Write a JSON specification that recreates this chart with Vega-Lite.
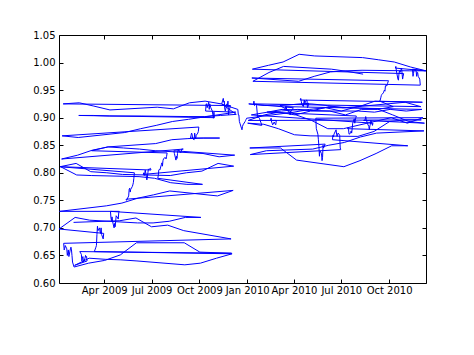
{
"$schema": "https://vega.github.io/schema/vega-lite/v6.json",
"width": 367, "height": 248,
"autosize": "none",
"padding": {"left": 59, "top": 35, "right": 48, "bottom": 72},
"background": "white",
"config": {"view": {"stroke": "black", "strokeWidth": 1}, "axis": {"labelFont": "DejaVu Sans", "labelFontSize": 10, "labelColor": "black", "tickColor": "black", "domain": false, "grid": false}},
"data": {"values": [
{"d":"2009-02-01","v":0.710},{"d":"2009-05-01","v":0.713},{"d":"2009-06-01","v":0.718},{"d":"2009-07-01","v":0.702},{"d":"2009-08-01","v":0.705},{"d":"2009-09-01","v":0.695},{"d":"2009-12-01","v":0.680},
{"d":"2009-01-13","v":0.672},{"d":"2009-01-14","v":0.660},{"d":"2009-01-15","v":0.663},{"d":"2009-01-16","v":0.668},{"d":"2009-01-19","v":0.662},{"d":"2009-01-20","v":0.650},{"d":"2009-01-21","v":0.655},{"d":"2009-01-22","v":0.660},{"d":"2009-01-23","v":0.648},{"d":"2009-01-26","v":0.662},{"d":"2009-01-27","v":0.665},{"d":"2009-01-28","v":0.660},{"d":"2009-01-29","v":0.650},{"d":"2009-01-30","v":0.638},
{"d":"2009-02-02","v":0.629},{"d":"2009-03-02","v":0.636},{"d":"2009-04-02","v":0.641},{"d":"2009-05-02","v":0.651},{"d":"2009-06-02","v":0.673},{"d":"2009-09-02","v":0.673},{"d":"2009-10-02","v":0.656},{"d":"2009-11-02","v":0.655},{"d":"2009-12-02","v":0.654},
{"d":"2009-02-13","v":0.657},{"d":"2009-02-16","v":0.652},{"d":"2009-02-17","v":0.640},{"d":"2009-02-18","v":0.645},{"d":"2009-02-19","v":0.648},{"d":"2009-02-20","v":0.638},{"d":"2009-02-23","v":0.645},{"d":"2009-02-24","v":0.650},{"d":"2009-02-25","v":0.647},{"d":"2009-02-26","v":0.648},{"d":"2009-02-27","v":0.640},
{"d":"2009-02-03","v":0.632},{"d":"2009-03-03","v":0.645},{"d":"2009-04-03","v":0.643},{"d":"2009-05-03","v":0.642},{"d":"2009-06-03","v":0.640},{"d":"2009-09-03","v":0.633},{"d":"2009-10-03","v":0.636},{"d":"2009-11-03","v":0.645},{"d":"2009-12-03","v":0.653},
{"d":"2009-03-13","v":0.657},{"d":"2009-03-16","v":0.665},{"d":"2009-03-17","v":0.668},{"d":"2009-03-18","v":0.688},{"d":"2009-03-19","v":0.703},{"d":"2009-03-20","v":0.695},{"d":"2009-03-23","v":0.700},{"d":"2009-03-24","v":0.693},{"d":"2009-03-25","v":0.690},{"d":"2009-03-26","v":0.700},{"d":"2009-03-27","v":0.688},{"d":"2009-03-30","v":0.680},{"d":"2009-03-31","v":0.690},
{"d":"2009-01-04","v":0.698},{"d":"2009-02-04","v":0.719},{"d":"2009-03-04","v":0.714},{"d":"2009-06-04","v":0.709},{"d":"2009-07-04","v":0.709},{"d":"2009-08-04","v":0.712},{"d":"2009-09-04","v":0.719},{"d":"2009-10-04","v":0.719},
{"d":"2009-04-13","v":0.730},{"d":"2009-04-14","v":0.718},{"d":"2009-04-15","v":0.713},{"d":"2009-04-16","v":0.720},{"d":"2009-04-17","v":0.712},{"d":"2009-04-20","v":0.700},{"d":"2009-04-21","v":0.708},{"d":"2009-04-22","v":0.702},{"d":"2009-04-23","v":0.712},{"d":"2009-04-24","v":0.722},{"d":"2009-04-27","v":0.718},{"d":"2009-04-28","v":0.716},{"d":"2009-04-29","v":0.728},{"d":"2009-04-30","v":0.730},
{"d":"2009-01-05","v":0.730},{"d":"2009-04-05","v":0.740},{"d":"2009-05-05","v":0.745},{"d":"2009-06-05","v":0.754},{"d":"2009-07-05","v":0.760},{"d":"2009-08-05","v":0.767},{"d":"2009-11-05","v":0.758},{"d":"2009-12-05","v":0.768},
{"d":"2009-05-13","v":0.752},{"d":"2009-05-14","v":0.750},{"d":"2009-05-15","v":0.752},{"d":"2009-05-18","v":0.758},{"d":"2009-05-19","v":0.770},{"d":"2009-05-20","v":0.772},{"d":"2009-05-21","v":0.765},{"d":"2009-05-22","v":0.770},{"d":"2009-05-25","v":0.775},{"d":"2009-05-26","v":0.778},{"d":"2009-05-27","v":0.782},{"d":"2009-05-28","v":0.790},{"d":"2009-05-29","v":0.800},
{"d":"2009-01-06","v":0.811},{"d":"2009-02-06","v":0.817},{"d":"2009-03-06","v":0.802},{"d":"2009-04-06","v":0.800},{"d":"2009-05-06","v":0.797},{"d":"2009-08-06","v":0.795},{"d":"2009-09-06","v":0.800},{"d":"2009-10-06","v":0.803},{"d":"2009-11-06","v":0.817},{"d":"2009-12-06","v":0.812},
{"d":"2009-06-15","v":0.797},{"d":"2009-06-16","v":0.800},{"d":"2009-06-17","v":0.795},{"d":"2009-06-18","v":0.800},{"d":"2009-06-19","v":0.805},{"d":"2009-06-22","v":0.787},{"d":"2009-06-23","v":0.792},{"d":"2009-06-24","v":0.800},{"d":"2009-06-25","v":0.807},{"d":"2009-06-26","v":0.806},{"d":"2009-06-29","v":0.808},{"d":"2009-06-30","v":0.805},
{"d":"2009-01-07","v":0.811},{"d":"2009-02-07","v":0.796},{"d":"2009-03-07","v":0.795},{"d":"2009-06-07","v":0.793},{"d":"2009-07-07","v":0.790},{"d":"2009-08-07","v":0.782},{"d":"2009-09-07","v":0.779},{"d":"2009-10-07","v":0.779},
{"d":"2009-07-13","v":0.790},{"d":"2009-07-14","v":0.795},{"d":"2009-07-15","v":0.805},{"d":"2009-07-16","v":0.806},{"d":"2009-07-17","v":0.805},{"d":"2009-07-20","v":0.815},{"d":"2009-07-21","v":0.818},{"d":"2009-07-22","v":0.812},{"d":"2009-07-23","v":0.822},{"d":"2009-07-24","v":0.825},{"d":"2009-07-27","v":0.828},{"d":"2009-07-28","v":0.826},{"d":"2009-07-29","v":0.825},{"d":"2009-07-30","v":0.830},{"d":"2009-07-31","v":0.836},
{"d":"2009-03-08","v":0.840},{"d":"2009-04-08","v":0.847},{"d":"2009-05-08","v":0.845},{"d":"2009-06-08","v":0.843},{"d":"2009-07-08","v":0.840},{"d":"2009-10-08","v":0.835},{"d":"2009-11-08","v":0.829},{"d":"2009-12-08","v":0.832},
{"d":"2009-08-13","v":0.840},{"d":"2009-08-14","v":0.835},{"d":"2009-08-17","v":0.823},{"d":"2009-08-18","v":0.830},{"d":"2009-08-19","v":0.826},{"d":"2009-08-20","v":0.835},{"d":"2009-08-21","v":0.841},{"d":"2009-08-24","v":0.840},{"d":"2009-08-25","v":0.837},{"d":"2009-08-26","v":0.836},{"d":"2009-08-27","v":0.838},{"d":"2009-08-28","v":0.843},{"d":"2009-08-31","v":0.843},
{"d":"2009-01-09","v":0.825},{"d":"2009-02-09","v":0.832},{"d":"2009-03-09","v":0.841},{"d":"2009-04-09","v":0.847},{"d":"2009-07-09","v":0.853},{"d":"2009-08-09","v":0.860},{"d":"2009-09-09","v":0.862},{"d":"2009-10-09","v":0.863},{"d":"2009-11-09","v":0.863},
{"d":"2009-09-14","v":0.863},{"d":"2009-09-15","v":0.868},{"d":"2009-09-16","v":0.872},{"d":"2009-09-17","v":0.870},{"d":"2009-09-18","v":0.862},{"d":"2009-09-21","v":0.860},{"d":"2009-09-22","v":0.872},{"d":"2009-09-23","v":0.866},{"d":"2009-09-24","v":0.862},{"d":"2009-09-25","v":0.868},{"d":"2009-09-28","v":0.872},{"d":"2009-09-29","v":0.875},{"d":"2009-09-30","v":0.883},
{"d":"2009-01-10","v":0.867},{"d":"2009-02-10","v":0.864},{"d":"2009-05-10","v":0.873},{"d":"2009-06-10","v":0.880},{"d":"2009-07-10","v":0.886},{"d":"2009-08-10","v":0.893},{"d":"2009-09-10","v":0.897},{"d":"2009-12-10","v":0.910},
{"d":"2009-10-13","v":0.912},{"d":"2009-10-14","v":0.925},{"d":"2009-10-15","v":0.925},{"d":"2009-10-16","v":0.918},{"d":"2009-10-19","v":0.928},{"d":"2009-10-20","v":0.915},{"d":"2009-10-21","v":0.925},{"d":"2009-10-22","v":0.922},{"d":"2009-10-23","v":0.918},{"d":"2009-10-26","v":0.912},{"d":"2009-10-27","v":0.905},{"d":"2009-10-28","v":0.899},{"d":"2009-10-29","v":0.910},{"d":"2009-10-30","v":0.900},
{"d":"2009-02-11","v":0.904},{"d":"2009-03-11","v":0.904},{"d":"2009-04-11","v":0.903},{"d":"2009-05-11","v":0.903},{"d":"2009-06-11","v":0.903},{"d":"2009-09-11","v":0.902},{"d":"2009-10-11","v":0.902},{"d":"2009-11-11","v":0.904},{"d":"2009-12-11","v":0.906},
{"d":"2009-11-13","v":0.925},{"d":"2009-11-16","v":0.935},{"d":"2009-11-17","v":0.928},{"d":"2009-11-18","v":0.930},{"d":"2009-11-19","v":0.915},{"d":"2009-11-20","v":0.912},{"d":"2009-11-23","v":0.925},{"d":"2009-11-24","v":0.920},{"d":"2009-11-25","v":0.930},{"d":"2009-11-26","v":0.905},{"d":"2009-11-27","v":0.912},{"d":"2009-11-30","v":0.922},
{"d":"2009-01-12","v":0.925},{"d":"2009-02-12","v":0.927},{"d":"2009-03-12","v":0.921},{"d":"2009-04-12","v":0.914},{"d":"2009-07-12","v":0.919},{"d":"2009-08-12","v":0.916},{"d":"2009-09-12","v":0.927},{"d":"2009-10-12","v":0.930},{"d":"2009-11-12","v":0.925},
{"d":"2009-12-14","v":0.915},{"d":"2009-12-15","v":0.905},{"d":"2009-12-16","v":0.905},{"d":"2009-12-17","v":0.893},{"d":"2009-12-18","v":0.890},{"d":"2009-12-21","v":0.881},{"d":"2009-12-22","v":0.878},{"d":"2009-12-23","v":0.884},{"d":"2009-12-24","v":0.887},{"d":"2009-12-28","v":0.893},{"d":"2009-12-29","v":0.895},{"d":"2009-12-30","v":0.897},{"d":"2009-12-31","v":0.899},
{"d":"2010-04-01","v":0.910},{"d":"2010-05-01","v":0.915},{"d":"2010-06-01","v":0.918},{"d":"2010-07-01","v":0.912},{"d":"2010-08-01","v":0.920},{"d":"2010-11-01","v":0.928},{"d":"2010-12-01","v":0.920},
{"d":"2010-01-13","v":0.925},{"d":"2010-01-14","v":0.930},{"d":"2010-01-15","v":0.922},{"d":"2010-01-18","v":0.925},{"d":"2010-01-19","v":0.922},{"d":"2010-01-20","v":0.912},{"d":"2010-01-21","v":0.900},{"d":"2010-01-22","v":0.902},{"d":"2010-01-25","v":0.898},{"d":"2010-01-26","v":0.895},{"d":"2010-01-27","v":0.892},{"d":"2010-01-28","v":0.890},{"d":"2010-01-29","v":0.886},
{"d":"2010-01-02","v":0.890},{"d":"2010-02-02","v":0.888},{"d":"2010-03-02","v":0.880},{"d":"2010-04-02","v":0.869},{"d":"2010-05-02","v":0.867},{"d":"2010-08-02","v":0.866},{"d":"2010-09-02","v":0.875},{"d":"2010-10-02","v":0.893},{"d":"2010-11-02","v":0.896},{"d":"2010-12-02","v":0.896},
{"d":"2010-02-15","v":0.895},{"d":"2010-02-16","v":0.899},{"d":"2010-02-17","v":0.892},{"d":"2010-02-18","v":0.890},{"d":"2010-02-19","v":0.887},{"d":"2010-02-22","v":0.892},{"d":"2010-02-23","v":0.890},{"d":"2010-02-24","v":0.888},{"d":"2010-02-25","v":0.887},{"d":"2010-02-26","v":0.895},
{"d":"2010-01-03","v":0.895},{"d":"2010-02-03","v":0.905},{"d":"2010-03-03","v":0.910},{"d":"2010-04-03","v":0.905},{"d":"2010-05-03","v":0.912},{"d":"2010-08-03","v":0.912},{"d":"2010-09-03","v":0.910},{"d":"2010-10-03","v":0.915},{"d":"2010-11-03","v":0.912},{"d":"2010-12-03","v":0.915},
{"d":"2010-03-15","v":0.920},{"d":"2010-03-16","v":0.917},{"d":"2010-03-17","v":0.920},{"d":"2010-03-18","v":0.915},{"d":"2010-03-19","v":0.914},{"d":"2010-03-22","v":0.910},{"d":"2010-03-23","v":0.910},{"d":"2010-03-24","v":0.906},{"d":"2010-03-25","v":0.905},{"d":"2010-03-26","v":0.912},{"d":"2010-03-29","v":0.915},{"d":"2010-03-30","v":0.917},{"d":"2010-03-31","v":0.918},
{"d":"2010-01-04","v":0.925},{"d":"2010-02-04","v":0.922},{"d":"2010-05-04","v":0.925},{"d":"2010-06-04","v":0.922},{"d":"2010-07-04","v":0.918},{"d":"2010-08-04","v":0.920},{"d":"2010-09-04","v":0.930},{"d":"2010-12-04","v":0.928},
{"d":"2010-04-13","v":0.932},{"d":"2010-04-14","v":0.935},{"d":"2010-04-15","v":0.930},{"d":"2010-04-16","v":0.925},{"d":"2010-04-19","v":0.920},{"d":"2010-04-20","v":0.928},{"d":"2010-04-21","v":0.932},{"d":"2010-04-22","v":0.925},{"d":"2010-04-23","v":0.930},{"d":"2010-04-26","v":0.932},{"d":"2010-04-27","v":0.918},{"d":"2010-04-28","v":0.920},{"d":"2010-04-29","v":0.925},{"d":"2010-04-30","v":0.926},
{"d":"2010-03-05","v":0.922},{"d":"2010-04-05","v":0.905},{"d":"2010-05-05","v":0.895},{"d":"2010-06-05","v":0.880},{"d":"2010-07-05","v":0.880},{"d":"2010-10-05","v":0.900},{"d":"2010-11-05","v":0.890},{"d":"2010-12-05","v":0.900},
{"d":"2010-05-13","v":0.899},{"d":"2010-05-14","v":0.880},{"d":"2010-05-17","v":0.870},{"d":"2010-05-18","v":0.860},{"d":"2010-05-19","v":0.848},{"d":"2010-05-20","v":0.830},{"d":"2010-05-21","v":0.840},{"d":"2010-05-24","v":0.835},{"d":"2010-05-25","v":0.822},{"d":"2010-05-26","v":0.828},{"d":"2010-05-27","v":0.850},{"d":"2010-05-28","v":0.845},{"d":"2010-05-31","v":0.852},
{"d":"2010-01-06","v":0.845},{"d":"2010-02-06","v":0.845},{"d":"2010-03-06","v":0.845},{"d":"2010-04-06","v":0.823},{"d":"2010-07-06","v":0.811},{"d":"2010-08-06","v":0.822},{"d":"2010-09-06","v":0.835},{"d":"2010-10-06","v":0.849},{"d":"2010-11-06","v":0.849},
{"d":"2010-06-14","v":0.860},{"d":"2010-06-15","v":0.868},{"d":"2010-06-16","v":0.865},{"d":"2010-06-17","v":0.870},{"d":"2010-06-18","v":0.872},{"d":"2010-06-21","v":0.878},{"d":"2010-06-22","v":0.870},{"d":"2010-06-23","v":0.866},{"d":"2010-06-24","v":0.870},{"d":"2010-06-25","v":0.872},{"d":"2010-06-28","v":0.868},{"d":"2010-06-29","v":0.845},{"d":"2010-06-30","v":0.842},
{"d":"2010-01-07","v":0.833},{"d":"2010-02-07","v":0.840},{"d":"2010-05-07","v":0.843},{"d":"2010-06-07","v":0.850},{"d":"2010-07-07","v":0.855},{"d":"2010-08-07","v":0.865},{"d":"2010-09-07","v":0.872},{"d":"2010-12-07","v":0.876},
{"d":"2010-07-13","v":0.880},{"d":"2010-07-14","v":0.882},{"d":"2010-07-15","v":0.878},{"d":"2010-07-16","v":0.870},{"d":"2010-07-19","v":0.872},{"d":"2010-07-20","v":0.876},{"d":"2010-07-21","v":0.872},{"d":"2010-07-22","v":0.880},{"d":"2010-07-23","v":0.890},{"d":"2010-07-26","v":0.898},{"d":"2010-07-27","v":0.890},{"d":"2010-07-28","v":0.895},{"d":"2010-07-29","v":0.900},{"d":"2010-07-30","v":0.903},
{"d":"2010-02-08","v":0.910},{"d":"2010-03-08","v":0.912},{"d":"2010-04-08","v":0.915},{"d":"2010-05-08","v":0.913},{"d":"2010-06-08","v":0.920},{"d":"2010-09-08","v":0.916},{"d":"2010-10-08","v":0.905},{"d":"2010-11-08","v":0.893},{"d":"2010-12-08","v":0.890},
{"d":"2010-08-13","v":0.895},{"d":"2010-08-16","v":0.896},{"d":"2010-08-17","v":0.902},{"d":"2010-08-18","v":0.897},{"d":"2010-08-19","v":0.894},{"d":"2010-08-20","v":0.890},{"d":"2010-08-23","v":0.884},{"d":"2010-08-24","v":0.878},{"d":"2010-08-25","v":0.885},{"d":"2010-08-26","v":0.888},{"d":"2010-08-27","v":0.895},{"d":"2010-08-30","v":0.886},{"d":"2010-08-31","v":0.890},
{"d":"2010-01-09","v":0.905},{"d":"2010-02-09","v":0.910},{"d":"2010-03-09","v":0.915},{"d":"2010-06-09","v":0.912},{"d":"2010-07-09","v":0.905},{"d":"2010-08-09","v":0.915},{"d":"2010-09-09","v":0.915},{"d":"2010-10-09","v":0.920},
{"d":"2010-09-13","v":0.930},{"d":"2010-09-14","v":0.932},{"d":"2010-09-15","v":0.936},{"d":"2010-09-16","v":0.940},{"d":"2010-09-17","v":0.942},{"d":"2010-09-20","v":0.945},{"d":"2010-09-21","v":0.948},{"d":"2010-09-22","v":0.950},{"d":"2010-09-23","v":0.948},{"d":"2010-09-24","v":0.958},{"d":"2010-09-27","v":0.958},{"d":"2010-09-28","v":0.962},{"d":"2010-09-29","v":0.965},{"d":"2010-09-30","v":0.967},
{"d":"2010-01-10","v":0.972},{"d":"2010-04-10","v":0.966},{"d":"2010-05-10","v":0.975},{"d":"2010-06-10","v":0.983},{"d":"2010-07-10","v":0.985},{"d":"2010-08-10","v":0.986},{"d":"2010-11-10","v":0.985},{"d":"2010-12-10","v":0.985},
{"d":"2010-10-13","v":0.990},{"d":"2010-10-14","v":0.993},{"d":"2010-10-15","v":0.985},{"d":"2010-10-18","v":0.970},{"d":"2010-10-19","v":0.968},{"d":"2010-10-20","v":0.980},{"d":"2010-10-21","v":0.985},{"d":"2010-10-22","v":0.982},{"d":"2010-10-25","v":0.990},{"d":"2010-10-26","v":0.980},{"d":"2010-10-27","v":0.970},{"d":"2010-10-28","v":0.975},{"d":"2010-10-29","v":0.980},
{"d":"2010-01-11","v":0.988},{"d":"2010-02-11","v":0.995},{"d":"2010-03-11","v":1.001},{"d":"2010-04-11","v":1.015},{"d":"2010-05-11","v":1.012},{"d":"2010-08-11","v":1.009},{"d":"2010-09-11","v":1.005},{"d":"2010-10-11","v":1.001},{"d":"2010-11-11","v":0.992},{"d":"2010-12-11","v":0.985},
{"d":"2010-11-15","v":0.988},{"d":"2010-11-16","v":0.975},{"d":"2010-11-17","v":0.980},{"d":"2010-11-18","v":0.988},{"d":"2010-11-19","v":0.986},{"d":"2010-11-22","v":0.985},{"d":"2010-11-23","v":0.975},{"d":"2010-11-24","v":0.982},{"d":"2010-11-25","v":0.982},{"d":"2010-11-26","v":0.975},{"d":"2010-11-29","v":0.970},{"d":"2010-11-30","v":0.959},
{"d":"2010-01-12","v":0.966},{"d":"2010-02-12","v":0.982},{"d":"2010-03-12","v":0.993},{"d":"2010-06-12","v":0.988},{"d":"2010-07-12","v":0.984},{"d":"2010-08-12","v":0.979}
]},
"layer": [
{"mark": {"type": "line", "color": "#0000ff", "strokeWidth": 1},
 "encoding": {
  "x": {"field": "d", "type": "temporal", "scale": {"type": "utc", "domain": [{"year": 2009, "month": 1, "date": 4, "utc": true}, {"year": 2010, "month": 12, "date": 11, "utc": true}]},
        "axis": {"orient": "bottom", "title": null, "format": "%b %Y", "tickSize": -4, "labelPadding": 6,
                 "values": [{"year": 2009, "month": 4, "date": 1, "utc": true}, {"year": 2009, "month": 7, "date": 1, "utc": true}, {"year": 2009, "month": 10, "date": 1, "utc": true}, {"year": 2010, "month": 1, "date": 1, "utc": true}, {"year": 2010, "month": 4, "date": 1, "utc": true}, {"year": 2010, "month": 7, "date": 1, "utc": true}, {"year": 2010, "month": 10, "date": 1, "utc": true}]}},
  "y": {"field": "v", "type": "quantitative", "scale": {"domain": [0.6, 1.05], "nice": false, "zero": false},
        "axis": {"orient": "left", "title": null, "format": ".2f", "tickSize": -4, "labelPadding": 8, "values": [0.6, 0.65, 0.7, 0.75, 0.8, 0.85, 0.9, 0.95, 1.0, 1.05]}},
  "order": {"value": null}
 }},
{"mark": {"type": "line", "opacity": 0},
 "encoding": {
  "x": {"field": "d", "type": "temporal", "scale": {"type": "utc", "domain": [{"year": 2009, "month": 1, "date": 4, "utc": true}, {"year": 2010, "month": 12, "date": 11, "utc": true}]},
        "axis": {"orient": "top", "title": null, "labels": false, "tickSize": -4,
                 "values": [{"year": 2009, "month": 4, "date": 1, "utc": true}, {"year": 2009, "month": 7, "date": 1, "utc": true}, {"year": 2009, "month": 10, "date": 1, "utc": true}, {"year": 2010, "month": 1, "date": 1, "utc": true}, {"year": 2010, "month": 4, "date": 1, "utc": true}, {"year": 2010, "month": 7, "date": 1, "utc": true}, {"year": 2010, "month": 10, "date": 1, "utc": true}]}},
  "y": {"field": "v", "type": "quantitative", "scale": {"domain": [0.6, 1.05], "nice": false, "zero": false},
        "axis": {"orient": "right", "title": null, "labels": false, "tickSize": -4, "values": [0.6, 0.65, 0.7, 0.75, 0.8, 0.85, 0.9, 0.95, 1.0, 1.05]}},
  "order": {"value": null}
 }}
],
"resolve": {"axis": {"x": "independent", "y": "independent"}}
}
